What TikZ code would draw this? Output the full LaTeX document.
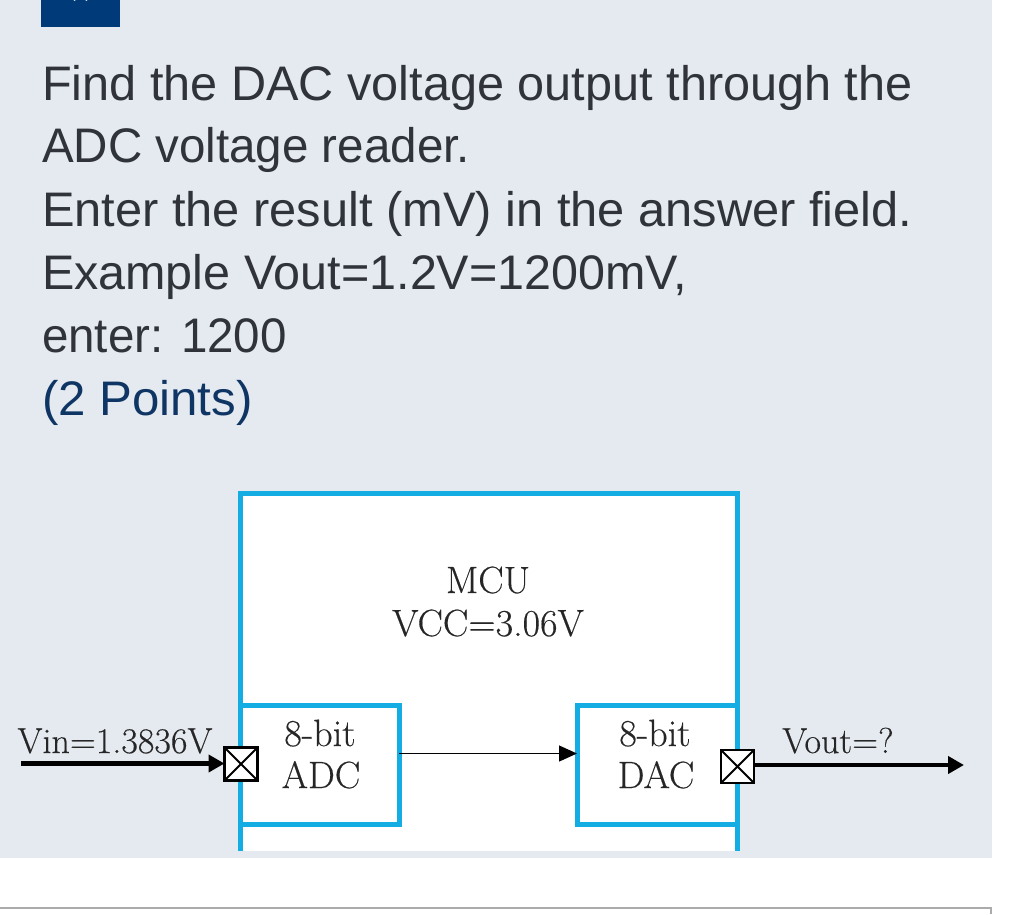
\documentclass[tikz,border=0pt]{standalone}
\usepackage{fontspec}
\usepackage{graphicx}
\setmainfont{Liberation Sans}
\newfontfamily\cmfont[FakeBold=0.35]{Latin Modern Roman}
\usetikzlibrary{arrows.meta}
\definecolor{pagebg}{HTML}{E5EAF1}
\definecolor{tabblue}{HTML}{003A78}
\definecolor{bodyink}{HTML}{30343A}
\definecolor{pointsink}{HTML}{0E3563}
\definecolor{cyanline}{HTML}{14ADE3}
\definecolor{ruleline}{HTML}{ABABAB}
\newcommand{\fitw}[2]{\scalebox{#1}[1]{#2}}
\tikzset{
  x=1pt,y=-1pt,
  qline/.style={anchor=base west,inner sep=0,outer sep=0,text=bodyink,font=\fontsize{48.5}{50}\selectfont},
  cmlabel/.style={anchor=base,inner sep=0,outer sep=0,text=black!85,font=\cmfont\fontsize{38}{40}\selectfont},
  cmside/.style={cmlabel,font=\cmfont\fontsize{36}{38}\selectfont},
  subbox/.style={draw=cyanline,line width=5pt,fill=white,inner sep=0,outer sep=0,minimum height=119pt},
  pad/.style={draw=black,fill=white,line width=2.7pt,inner sep=0,outer sep=0,minimum size=33pt,
    path picture={\draw[black,line width=2pt] (path picture bounding box.north west)--(path picture bounding box.south east)
      (path picture bounding box.north east)--(path picture bounding box.south west);}},
  bigarrow/.style={draw=black,line width=4.5pt,-{Triangle[length=16pt,width=17pt]}},
  thinarrow/.style={draw=black,line width=1.3pt,-{Triangle[length=18pt,width=16pt]}},
}
\begin{document}
\begin{tikzpicture}
\useasboundingbox (0,0) rectangle (1014,914);
\fill[white] (0,0) rectangle (1014,914);
\fill[pagebg] (0,0) rectangle (992,858);
\fill[tabblue] (41,0) rectangle (120,27);
\draw[white,line width=3pt] (73.5,0) arc[start angle=180,end angle=360,x radius=7,y radius=2];
% rule at bottom
\draw[ruleline,line width=2pt] (0,907.5) -- (991,907.5) -- (991,914);
% text
\node[qline] (l1) at (42,100) {\fitw{1.003}{Find the DAC voltage output through the}};
\node[qline] (l2) at (42,162) {\fitw{0.98}{ADC voltage reader.}};
\node[qline] (l3) at (42,226) {\fitw{1.006}{Enter the result (mV) in the answer field.}};
\node[qline] (l4) at (42,289) {Example Vout=1.2V=1200mV,};
\node[qline] (l5) at (42,352) {\fitw{0.98}{enter: 1200}};
\node[qline,text=pointsink] (l6) at (42,415) {\fitw{1.015}{(2 Points)}};
% MCU
\fill[white] (240,493) rectangle (737,851);
\draw[cyanline,line width=5pt] (240,851) -- (240,493) -- (737,493) -- (737,851);
\node[cmlabel] (mcu1) at (488,593) {MCU};
\node[cmlabel] (mcu2) at (488,636) {VCC=3.06V};
% sub boxes
\node[subbox,minimum width=159pt] (adcbox) at (319.5,764.5) {};
\node[subbox,minimum width=160pt] (dacbox) at (657,764.5) {};
\node[cmlabel] (adc1) at (320,746) {8-bit};
\node[cmlabel] (adc2) at (321,788) {ADC};
\node[cmlabel] (dac1) at (655,746) {8-bit};
\node[cmlabel] (dac2) at (656,788) {DAC};
\node[pad] (padin) at (241,764) {};
\node[pad] (padout) at (737.5,766.5) {};
% connectors
\coordinate (vinstart) at (21,763.5);
\coordinate (voutend) at (964,765);
\draw[bigarrow] (vinstart) -- ([yshift=0.5pt]padin.west);
\draw[bigarrow] ([yshift=1.5pt]padout.east) -- (voutend);
\draw[thinarrow] ([yshift=11pt]adcbox.east) -- ([yshift=11pt]dacbox.west);
\node[cmside] (vin) at (115,753) {Vin=1.3836V};
\node[cmside] (vout) at (838,753) {Vout=?};
\end{tikzpicture}
\end{document}
